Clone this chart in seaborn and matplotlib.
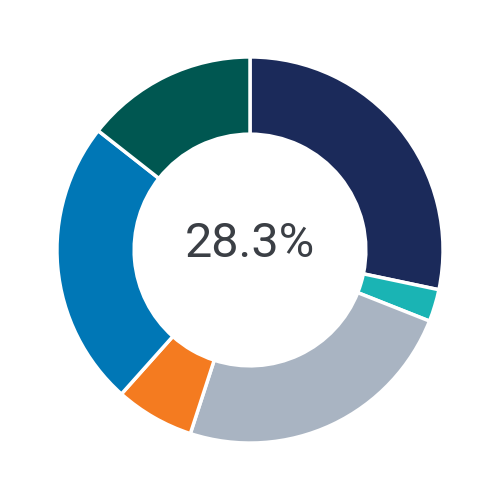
import matplotlib
matplotlib.use("Agg")
import matplotlib.pyplot as plt
import seaborn as sns

# Donut segment shares (clockwise from 12 o'clock)
shares = [28.3, 2.7, 24.0, 6.6, 24.0, 14.4]
colors = ["#1b2a5a", "#1ab4b4", "#a9b4c2", "#f47b20", "#0077b6", "#005751"]
center_label = "28.3%"

sns.set_theme(style="white")
plt.rcParams['font.family'] = ['Roboto', 'DejaVu Sans']

fig = plt.figure(figsize=(5, 5), dpi=100)
ax = fig.add_axes([0, 0, 1, 1])

ax.pie(shares, colors=colors, startangle=90, counterclock=False,
       radius=1.0,
       wedgeprops=dict(width=0.4, edgecolor="white", linewidth=2.5))

ax.text(0, 0.03, center_label, ha="center", va="center",
        fontsize=35, color="#3b3f45")

ax.set_xlim(-1.295, 1.295)
ax.set_ylim(-1.295, 1.295)
ax.set_aspect("equal")
ax.axis("off")

fig.savefig("out.png", dpi=100, facecolor="white")
